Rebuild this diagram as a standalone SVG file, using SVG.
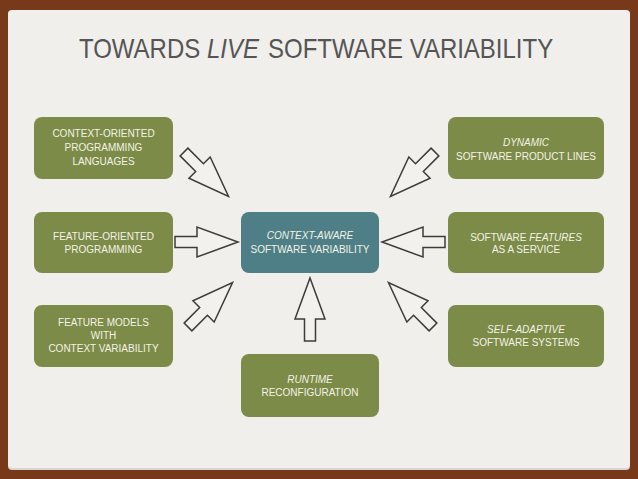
<svg xmlns="http://www.w3.org/2000/svg" width="638" height="479" viewBox="0 0 638 479">
<defs>
<style>
.box{fill:#7c8b47;}
.center{fill:#4e7f86;}
.lbl{font-family:"Liberation Sans",Arial,sans-serif;font-size:10px;fill:#f4f2e6;text-anchor:middle;}
.it{font-style:italic;}
.arrow{fill:#f2f1ee;stroke:#3c3c3c;stroke-width:1.5;stroke-linejoin:miter;}
.title{font-family:"Liberation Sans",Arial,sans-serif;font-size:24px;fill:#555555;}
</style>
<path id="arr" d="M0,-5.5 L22,-5.5 L22,-15 L63,0 L22,15 L22,5.5 L0,5.5 Z"/>
</defs>
<rect x="0" y="0" width="638" height="479" fill="#78391b"/>
<rect x="8" y="11" width="622" height="459" rx="4" fill="#d9d6cf"/>
<rect x="8" y="10" width="622" height="458" rx="4" fill="#f0efec"/>
<g id="title" transform="translate(0,58) scale(1,1.14)">
<text class="title" x="79" y="0">TOWARDS</text>
<text class="title it" x="207" y="0">LIVE</text>
<text class="title" x="268" y="0">SOFTWARE VARIABILITY</text>
</g>

<g id="connectors">
<use href="#arr" class="arrow" transform="translate(184,152) rotate(45)"/>
<use href="#arr" class="arrow" transform="translate(175,242)"/>
<use href="#arr" class="arrow" transform="translate(188,327) rotate(-45)"/>
<use href="#arr" class="arrow" transform="translate(310,341) rotate(-90)"/>
<use href="#arr" class="arrow" transform="translate(433,327) rotate(-135)"/>
<use href="#arr" class="arrow" transform="translate(445,242) rotate(180)"/>
<use href="#arr" class="arrow" transform="translate(435,152) rotate(135)"/>
</g>

<g id="cop">
<rect class="box" x="34" y="117" width="139" height="62" rx="8"/>
<text class="lbl" x="103.5" y="137">CONTEXT-ORIENTED</text>
<text class="lbl" x="103.5" y="151">PROGRAMMING</text>
<text class="lbl" x="103.5" y="165">LANGUAGES</text>
</g>
<g id="fop">
<rect class="box" x="34" y="212" width="139" height="61" rx="8"/>
<text class="lbl" x="103.5" y="239.5">FEATURE-ORIENTED</text>
<text class="lbl" x="103.5" y="252.5">PROGRAMMING</text>
</g>
<g id="fm">
<rect class="box" x="34" y="305" width="139" height="62" rx="8"/>
<text class="lbl" x="103.5" y="325.5">FEATURE MODELS</text>
<text class="lbl" x="103.5" y="338.5">WITH</text>
<text class="lbl" x="103.5" y="351.5">CONTEXT VARIABILITY</text>
</g>
<g id="cas">
<rect class="center" x="241" y="212" width="138" height="61" rx="8"/>
<text class="lbl it" x="310" y="239">CONTEXT-AWARE</text>
<text class="lbl" x="310" y="252.5">SOFTWARE VARIABILITY</text>
</g>
<g id="rr">
<rect class="box" x="241" y="354" width="138" height="63" rx="8"/>
<text class="lbl it" x="310" y="382.5">RUNTIME</text>
<text class="lbl" x="310" y="396">RECONFIGURATION</text>
</g>
<g id="dspl">
<rect class="box" x="448" y="117" width="156" height="62" rx="8"/>
<text class="lbl it" x="526" y="146">DYNAMIC</text>
<text class="lbl" x="526" y="160">SOFTWARE PRODUCT LINES</text>
</g>
<g id="sfaas">
<rect class="box" x="448" y="212" width="156" height="61" rx="8"/>
<text class="lbl" x="526" y="240.5">SOFTWARE <tspan class="it">FEATURES</tspan></text>
<text class="lbl" x="526" y="252.5">AS A SERVICE</text>
</g>
<g id="sas">
<rect class="box" x="448" y="305" width="156" height="62" rx="8"/>
<text class="lbl it" x="526" y="333">SELF-ADAPTIVE</text>
<text class="lbl" x="526" y="345.5">SOFTWARE SYSTEMS</text>
</g>
</svg>
